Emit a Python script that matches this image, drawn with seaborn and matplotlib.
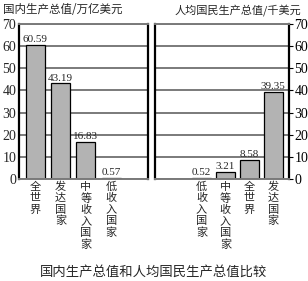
import matplotlib
matplotlib.use("Agg")
import matplotlib.pyplot as plt
import pandas as pd
import seaborn as sns

# data
gdp_regions = ["全世界", "发达国家", "中等收入国家", "低收入国家"]
gdp_values = [60.59, 43.19, 16.83, 0.57]
gni_regions = ["低收入国家", "中等收入国家", "全世界", "发达国家"]
gni_values = [0.52, 3.21, 8.58, 39.35]
y_ticks = [0, 10, 20, 30, 40, 50, 60, 70]

BAR_COLOR = "#b3b3b3"
GRID_COLOR = "#7a7a7a"

sns.set_theme(style="white")
plt.rcParams["font.family"] = ["Liberation Serif", "Noto Sans CJK SC"]

fig = plt.figure(figsize=(3.08, 2.81), dpi=100)
ax_l = fig.add_axes([0.062, 0.363, 0.419, 0.552])
ax_r = fig.add_axes([0.503, 0.363, 0.435, 0.552])


def draw_panel(ax, regions, values, width, xlim, side):
    df = pd.DataFrame({"region": regions, "value": values})
    sns.barplot(data=df, x="region", y="value", order=regions, color=BAR_COLOR,
                edgecolor="black", linewidth=0.9, width=width, saturation=1, ax=ax)
    ax.bar_label(ax.containers[0], fmt="%.2f", fontsize=8, padding=0.5)
    ax.set_xlim(*xlim)
    ax.set_ylim(0, 70)
    ax.set_yticks(y_ticks)
    ax.yaxis.grid(True, color=GRID_COLOR, linewidth=1.4)
    ax.set_axisbelow(True)
    ax.set_xlabel("")
    ax.set_ylabel("")
    ax.set_xticks(range(len(regions)))
    ax.set_xticklabels(["\n".join(r) for r in regions], fontsize=8,
                       family=["Noto Sans CJK SC"], linespacing=1.15)
    ax.tick_params(axis="x", length=0, pad=2)
    for s in ("left", "right"):
        ax.spines[s].set_color("black")
        ax.spines[s].set_linewidth(1.6)
    for s in ("top", "bottom"):
        ax.spines[s].set_color(GRID_COLOR)
        ax.spines[s].set_linewidth(1.4)
    if side == "right":
        ax.yaxis.tick_right()
        ax.tick_params(axis="y", which="both", right=True, length=3, width=0.8,
                       pad=1, labelsize=10, colors="black")
    else:
        ax.tick_params(axis="y", left=False, length=0, pad=2, labelsize=10)


draw_panel(ax_l, gdp_regions, gdp_values, 0.75, (-0.63, 4.46), "left")
draw_panel(ax_r, gni_regions, gni_values, 0.79, (-1.94, 3.65), "right")

fig.text(0.01, 0.965, "国内生产总值/万亿美元", fontsize=8.3,
         family=["Noto Sans CJK SC"], ha="left", va="center")
fig.text(0.978, 0.965, "人均国民生产总值/千美元", fontsize=8,
         family=["Noto Sans CJK SC"], ha="right", va="center")
fig.text(0.5, 0.032, "国内生产总值和人均国民生产总值比较", fontsize=9.6,
         family=["Noto Sans CJK SC"], ha="center", va="center")

fig.savefig("out.png", dpi=100)
plt.close(fig)
